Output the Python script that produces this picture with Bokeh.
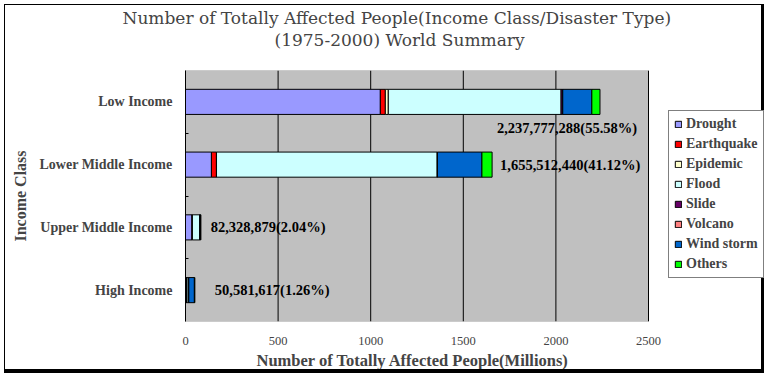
from bokeh.plotting import figure
from bokeh.models import (ColumnDataSource, FixedTicker, Legend, LegendItem, Title, Range1d, BoxAnnotation)
from bokeh.core.properties import value
from bokeh.embed import file_html
from bokeh.resources import INLINE

# ---- data (millions of people) ----
categories = ["High Income", "Upper Middle Income", "Lower Middle Income", "Low Income"]
drought    = [5.0, 35.0, 140.0, 1052.0]
earthquake = [3.0, 2.0, 27.0, 27.0]
epidemic   = [0.5, 0.3, 0.5, 16.0]
flood      = [8.0, 40.0, 1192.0, 933.0]
slide      = [0.5, 0.1, 0.5, 8.0]
volcano    = [1.0, 0.2, 0.5, 1.0]
wind_storm = [30.0, 4.0, 240.0, 157.0]
others     = [2.6, 0.7, 55.0, 44.0]
series_names = ["Drought", "Earthquake", "Epidemic", "Flood", "Slide", "Volcano", "Wind storm", "Others"]
series_colors = ["#9999FF", "#FF0000", "#FFFFCC", "#CCFFFF", "#660066", "#FF8080", "#0066CC", "#00FF00"]
totals = [50.581617, 82.328879, 1655.512440, 2237.777288]
total_labels = ["50,581,617(1.26%)", "82,328,879(2.04%)", "1,655,512,440(41.12%)", "2,237,777,288(55.58%)"]
x_ticks = [0, 500, 1000, 1500, 2000, 2500]
x_max = 2500
title_line1 = "Number of Totally Affected People(Income Class/Disaster Type)"
title_line2 = "(1975-2000) World Summary"
x_title = "Number of Totally Affected People(Millions)"
y_title = "Income Class"

# ---- layout (pixels) ----
W, H = 760, 369
LEFT, TOP, BOTTOM, RIGHT = 180, 64, 53, 1
PLOT_PX = 463                      # pixel width of the grey plotting area (0..x_max)
frame_px = W - LEFT - RIGHT
x_end = x_max * frame_px / PLOT_PX  # frame is widened so the legend can sit inside it

label_dx = [20, 10, 8, -103]
label_dy = [0, 0, 0, 26]

serif = "Liberation Serif"
ypos = [i + 0.5 for i in range(len(categories))]

data = dict(y=ypos)
keys = []
for name, vals in zip(series_names, [drought, earthquake, epidemic, flood, slide, volcano, wind_storm, others]):
    k = name.replace(" ", "_")
    keys.append(k)
    data[k] = vals
src = ColumnDataSource(data)

p = figure(width=W, height=H, output_backend="svg", toolbar_location=None,
           x_range=Range1d(0, x_end), y_range=Range1d(0, 4),
           min_border_left=LEFT, min_border_top=TOP, min_border_right=RIGHT, min_border_bottom=BOTTOM)
p.title.visible = False
p.background_fill_color = "white"
p.border_fill_color = "white"
p.outline_line_color = None
p.styles = {"border-left": "1px solid black", "border-top": "1px solid black",
            "border-right": "3px solid black", "border-bottom": "4px solid black",
            "margin-left": "4px", "margin-top": "4px"}

# grey plotting area with black outline
area = BoxAnnotation(left=0, right=x_max, bottom=0, top=4, fill_color="#C0C0C0", fill_alpha=1,
                     line_color="black", line_width=1, level="underlay")
p.add_layout(area)

# vertical grid lines at the x ticks
p.segment(x0=x_ticks, x1=x_ticks, y0=[0] * len(x_ticks), y1=[4] * len(x_ticks),
          line_color="black", line_width=1)

renderers = p.hbar_stack(keys, y="y", height=0.4, source=src, color=series_colors,
                         line_color="black", line_width=1)

# total labels
lsrc = ColumnDataSource(dict(x=totals, y=ypos, t=total_labels, dx=label_dx, dy=label_dy))
p.text(x="x", y="y", text="t", x_offset="dx", y_offset="dy", source=lsrc,
       text_font=value(serif), text_font_style="bold", text_font_size="14.5px",
       text_baseline="middle", text_align="left", text_color="black")

# axes
p.xaxis.ticker = FixedTicker(ticks=x_ticks)
p.xaxis.major_label_text_font = serif
p.xaxis.major_label_text_font_size = "12.5px"
p.xaxis.major_label_standoff = 15
p.xaxis.major_tick_out = 0
p.xaxis.major_tick_in = 0
p.xaxis.minor_tick_out = 0
p.xaxis.axis_line_color = None

p.yaxis.ticker = FixedTicker(ticks=ypos, minor_ticks=[1, 2, 3])
p.yaxis.major_label_overrides = {y: c for y, c in zip(ypos, categories)}
p.yaxis.axis_label = y_title
p.yaxis.axis_label_text_font = serif
p.yaxis.axis_label_text_font_style = "bold"
p.yaxis.axis_label_text_font_size = "16px"
p.yaxis.axis_label_standoff = 8
p.yaxis.major_label_text_font = serif
p.yaxis.major_label_text_font_style = "bold"
p.yaxis.major_label_text_font_size = "14px"
p.yaxis.major_label_standoff = 13
p.yaxis.major_tick_out = 0
p.yaxis.major_tick_in = 0
p.yaxis.minor_tick_out = 0
p.yaxis.minor_tick_in = 3
p.yaxis.axis_line_color = "black"

p.xgrid.grid_line_color = None
p.ygrid.grid_line_color = None

# x axis title (as a below-panel title so it can be aligned with the grey area)
xt = Title(text=x_title, align="left", offset=71, text_font=serif, text_font_style="bold",
           text_font_size="16.5px", standoff=2)
p.add_layout(xt, "below")

# titles (spacer nearest the frame, then line 2, then line 1)
spacer = Title(text=" ", align="left", text_font_size="1px", standoff=17.5)
t2 = Title(text=title_line2, align="left", offset=89,
           text_font="DejaVu Serif", text_font_style="normal", text_font_size="17px", standoff=0)
t1 = Title(text=title_line1, align="left", offset=-63,
           text_font="DejaVu Serif", text_font_style="normal", text_font_size="17px", standoff=0)
p.add_layout(spacer, "above")
p.add_layout(t2, "above")
p.add_layout(t1, "above")

# legend inside the widened frame, right of the grey area
items = [LegendItem(label=n, renderers=[r]) for n, r in zip(series_names, renderers)]
legend = Legend(items=items, location=(PLOT_PX + 20, 43), orientation="vertical",
                label_text_font=serif, label_text_font_style="bold", label_text_font_size="14px",
                glyph_width=8, glyph_height=8, label_height=13, spacing=4, padding=5,
                label_standoff=4, border_line_color="black", border_line_width=1,
                background_fill_color="white", background_fill_alpha=1, margin=0)
p.add_layout(legend, "center")

open("out.html", "w").write(file_html(p, INLINE))
